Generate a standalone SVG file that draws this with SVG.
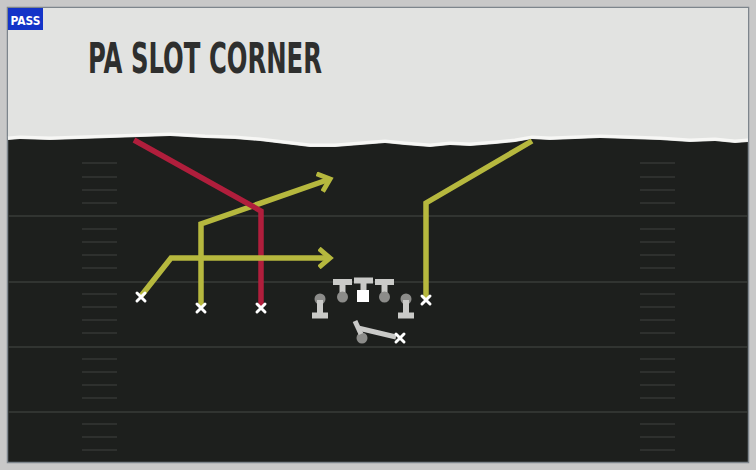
<svg xmlns="http://www.w3.org/2000/svg" width="756" height="470" viewBox="0 0 756 470">
<style>
.route{fill:none;stroke:#b6b83e;stroke-width:5.5;stroke-linejoin:miter;stroke-linecap:butt}
.red{fill:none;stroke:#b01e3c;stroke-width:5.5;stroke-linejoin:miter}
.xm{stroke:#ffffff;stroke-width:3;stroke-linecap:round}
.yl{stroke:#393c39;stroke-width:1.5}
.hash{stroke:#343734;stroke-width:1.5}
.pl{fill:#cacac8}
.dot{fill:#8c8c8a}
</style>
<defs>
<marker id="arr" markerWidth="4" markerHeight="4" refX="2.2" refY="2" orient="auto" markerUnits="strokeWidth">
<path d="M0.2,0.3 L2.2,2 L0.2,3.7" fill="none" stroke="#b6b83e" stroke-width="0.9"/>
</marker>
</defs>
<rect x="0" y="0" width="756" height="470" fill="#c8c8c8"/>
<rect x="7.5" y="7.5" width="741" height="455" fill="#1d1f1d" stroke="#7d858c" stroke-width="1.5"/>
<!-- paper -->
<path d="M8,8 H748 V142 L735,143 L715,141 L690,142 L660,140 L630,139 L600,138 L575,139 L550,140 L532,139 L515,142 L495,144 L470,146 L450,145 L430,147 L405,145 L385,143 L360,145 L335,147 L310,147 L285,144 L260,141 L235,139 L205,138 L170,136 L140,137 L110,138 L80,139 L50,140 L20,139 L8,140 Z" fill="#e2e3e1"/>
<path d="M8,138 L20,137 L50,138 L80,137 L110,136 L140,135 L170,134 L205,136 L235,137 L260,139 L285,142 L310,145 L335,145 L360,143 L385,141 L405,143 L430,145 L450,143 L470,144 L495,142 L515,140 L532,137 L550,138 L575,137 L600,136 L630,137 L660,138 L690,140 L715,139 L735,141 L748,140" fill="none" stroke="#f7f7f5" stroke-width="3"/>
<!-- yard lines -->
<g id="field">
<line class="yl" x1="8" y1="216" x2="748" y2="216"/>
<line class="yl" x1="8" y1="282" x2="748" y2="282"/>
<line class="yl" x1="8" y1="347" x2="748" y2="347"/>
<line class="yl" x1="8" y1="412" x2="748" y2="412"/>
<g class="hash">
<line x1="82" y1="163" x2="117" y2="163"/><line x1="82" y1="177" x2="117" y2="177"/><line x1="82" y1="190" x2="117" y2="190"/><line x1="82" y1="203" x2="117" y2="203"/>
<line x1="82" y1="229" x2="117" y2="229"/><line x1="82" y1="242" x2="117" y2="242"/><line x1="82" y1="255" x2="117" y2="255"/><line x1="82" y1="268" x2="117" y2="268"/>
<line x1="82" y1="294" x2="117" y2="294"/><line x1="82" y1="307" x2="117" y2="307"/><line x1="82" y1="320" x2="117" y2="320"/><line x1="82" y1="333" x2="117" y2="333"/>
<line x1="82" y1="359" x2="117" y2="359"/><line x1="82" y1="372" x2="117" y2="372"/><line x1="82" y1="385" x2="117" y2="385"/><line x1="82" y1="398" x2="117" y2="398"/>
<line x1="82" y1="424" x2="117" y2="424"/><line x1="82" y1="437" x2="117" y2="437"/><line x1="82" y1="450" x2="117" y2="450"/>
<line x1="640" y1="163" x2="675" y2="163"/><line x1="640" y1="177" x2="675" y2="177"/><line x1="640" y1="190" x2="675" y2="190"/><line x1="640" y1="203" x2="675" y2="203"/>
<line x1="640" y1="229" x2="675" y2="229"/><line x1="640" y1="242" x2="675" y2="242"/><line x1="640" y1="255" x2="675" y2="255"/><line x1="640" y1="268" x2="675" y2="268"/>
<line x1="640" y1="294" x2="675" y2="294"/><line x1="640" y1="307" x2="675" y2="307"/><line x1="640" y1="320" x2="675" y2="320"/><line x1="640" y1="333" x2="675" y2="333"/>
<line x1="640" y1="359" x2="675" y2="359"/><line x1="640" y1="372" x2="675" y2="372"/><line x1="640" y1="385" x2="675" y2="385"/><line x1="640" y1="398" x2="675" y2="398"/>
<line x1="640" y1="424" x2="675" y2="424"/><line x1="640" y1="437" x2="675" y2="437"/><line x1="640" y1="450" x2="675" y2="450"/>
</g>
</g>
<!-- title -->
<g id="title">
<rect x="8" y="8" width="35" height="22" fill="#1434c8"/>
<text x="25.5" y="24.5" text-anchor="middle" font-family="'DejaVu Sans', sans-serif" font-weight="bold" font-size="13" fill="#ffffff" textLength="30" lengthAdjust="spacingAndGlyphs">PASS</text>
<text x="88" y="73" font-family="'DejaVu Sans', sans-serif" font-weight="bold" font-size="43" fill="#2e2f2e" textLength="234" lengthAdjust="spacingAndGlyphs">PA SLOT CORNER</text>
</g>
<!-- routes -->
<g id="connectors">
<polyline class="route" points="201,306 201,224 330,179" marker-end="url(#arr)"/>
<polyline class="red" points="261,306 261,211 134,140"/>
<polyline class="route" points="141,296 171,258 330,258" marker-end="url(#arr)"/>
<polyline class="route" points="426,299 426,203 532,141"/>
<line x1="358" y1="328" x2="396" y2="337" stroke="#cacac8" stroke-width="5"/>
</g>
<!-- receivers -->
<g id="wr1"><path class="xm" d="M137,293 L145,301 M145,293 L137,301"/></g>
<g id="wr2"><path class="xm" d="M197,304 L205,312 M205,304 L197,312"/></g>
<g id="wr3"><path class="xm" d="M257,304 L265,312 M265,304 L257,312"/></g>
<g id="wr4"><path class="xm" d="M422,296 L430,304 M430,296 L422,304"/></g>
<!-- line -->
<g id="lt">
<circle class="dot" cx="320" cy="299" r="5.5"/>
<rect class="pl" x="317" y="300" width="6" height="14"/>
<rect class="pl" x="312" y="312.5" width="16" height="6"/>
</g>
<g id="lg">
<rect class="pl" x="333" y="279" width="19" height="6"/>
<rect class="pl" x="339.5" y="281" width="6" height="13"/>
<circle class="dot" cx="342.5" cy="297" r="5.5"/>
</g>
<g id="c">
<rect class="pl" x="354" y="277.5" width="19" height="6"/>
<rect class="pl" x="360.5" y="280" width="6" height="10"/>
<rect x="357" y="290" width="12" height="12" fill="#ffffff"/>
</g>
<g id="rg">
<rect class="pl" x="375" y="279" width="19" height="6"/>
<rect class="pl" x="381.5" y="281" width="6" height="13"/>
<circle class="dot" cx="384.5" cy="297" r="5.5"/>
</g>
<g id="rt">
<circle class="dot" cx="406" cy="299" r="5.5"/>
<rect class="pl" x="403" y="300" width="6" height="14"/>
<rect class="pl" x="398" y="312.5" width="16" height="6"/>
</g>
<g id="qb">
<circle class="dot" cx="362" cy="338" r="5.5"/>
<line x1="355" y1="321" x2="361" y2="334" stroke="#cacac8" stroke-width="5"/>
<path class="xm" d="M396,334 L404,342 M404,334 L396,342"/>
</g>
</svg>
